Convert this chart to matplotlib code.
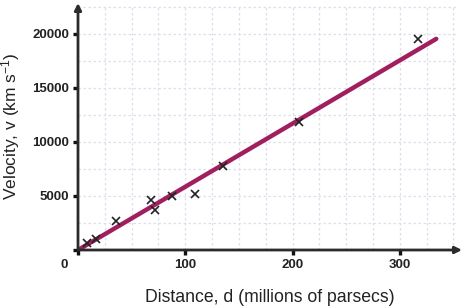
import matplotlib
matplotlib.use("Agg")
import matplotlib.pyplot as plt
import numpy as np

plt.rcParams['font.family'] = ['Liberation Sans', 'DejaVu Sans']
plt.rcParams['mathtext.fontset'] = 'custom'
plt.rcParams['mathtext.rm'] = 'Liberation Sans'
plt.rcParams['mathtext.it'] = 'Liberation Sans:italic'

# data
distance = [8, 17, 35, 68, 72, 87.5, 109, 135, 206.5, 317]
velocity = [620, 990, 2710, 4630, 3700, 5000, 5160, 7780, 11850, 19500]
fit_x = [0, 334]
fit_y = [0, 19550]
xticks = [0, 100, 200, 300]
xticklabels = ['', '100', '200', '300']
yticks = [0, 5000, 10000, 15000, 20000]
yticklabels = ['', '5000', '10000', '15000', '20000']

fig = plt.figure(figsize=(4.64, 3.06), dpi=100)
ax = fig.add_axes([78/464, 56/306, (462-78)/464, 247/306])
ax.set_xlim(0, 358)
ax.set_ylim(0, 22870)

# grid
gc = '#dedeef'
for gx in np.arange(25, 351, 25):
    ax.plot([gx, gx], [0, 22500], color=gc, lw=0.9, ls=(0, (2, 2)), zorder=0)
for gy in np.arange(2500, 22501, 2500):
    ax.plot([0, 352], [gy, gy], color=gc, lw=0.9, ls=(0, (2, 2)), zorder=0)

ax.plot(fit_x, fit_y, color='#a11f5f', lw=3.2, solid_capstyle='round', zorder=3)
ax.plot(distance, velocity, ls='none', marker='x', color='#222222', ms=6, mew=1.2, zorder=4)

for s in ax.spines.values():
    s.set_visible(False)

axc = '#2b2b2b'
ax.annotate('', xy=(1.0, 0), xytext=(0, 0), xycoords='axes fraction',
            arrowprops=dict(arrowstyle='-|>', color=axc, lw=2.0, mutation_scale=10, shrinkA=0, shrinkB=0), zorder=5)
ax.annotate('', xy=(0, 1.0), xytext=(0, 0), xycoords='axes fraction',
            arrowprops=dict(arrowstyle='-|>', color=axc, lw=2.0, mutation_scale=10, shrinkA=0, shrinkB=0), zorder=5)

ax.set_xticks(xticks)
ax.set_xticklabels(xticklabels)
ax.set_yticks(yticks)
ax.set_yticklabels(yticklabels)
ax.tick_params(axis='both', direction='out', length=3.5, width=2.4, color='#111111',
               labelsize=9.5, pad=3)
for lab in ax.get_xticklabels() + ax.get_yticklabels():
    lab.set_fontweight('bold')
    lab.set_color('#222222')

ax.text(-0.035, -0.06, '0', transform=ax.transAxes, ha='center', va='center',
        fontsize=9.5, fontweight='bold', color='#222222')

ax.set_xlabel('Distance, d (millions of parsecs)', fontsize=12.7, color='#222222', labelpad=13)
ax.set_ylabel(r'Velocity, v (km s$^{-1}$)', fontsize=12.5, color='#222222', labelpad=7)

fig.savefig('out.png', dpi=100)
